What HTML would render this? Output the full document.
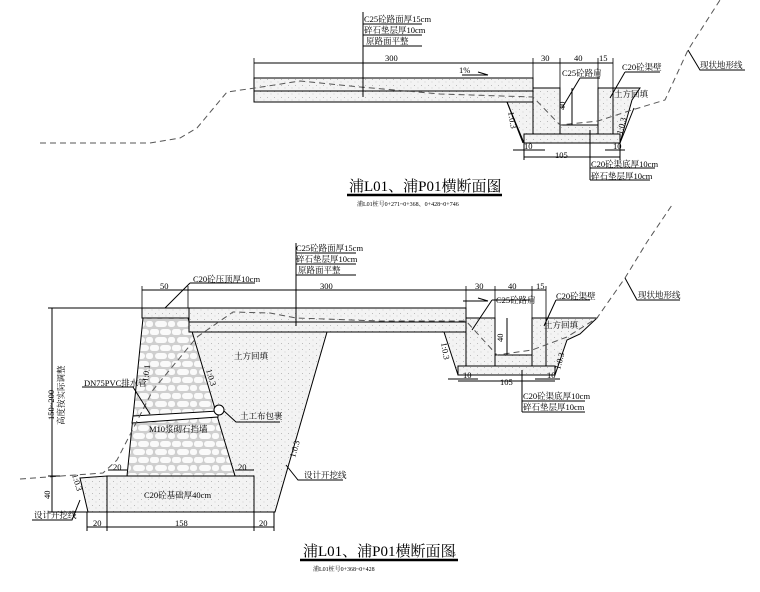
<!DOCTYPE html>
<html><head><meta charset="utf-8"><style>
html,body{margin:0;padding:0;background:#fff;}
svg{display:block;font-family:"Liberation Serif","Noto Serif CJK SC","Noto Sans CJK SC",serif;}
</style></head><body>
<svg width="760" height="592" viewBox="0 0 760 592" xmlns="http://www.w3.org/2000/svg">
<defs>
<pattern id="dots" width="7" height="6" patternUnits="userSpaceOnUse">
<rect width="7" height="6" fill="#f3f3f3"/>
<circle cx="1.5" cy="1.5" r="0.5" fill="#aaa"/><circle cx="5" cy="4" r="0.45" fill="#bbb"/>
</pattern>
<pattern id="stone" width="22" height="16" patternUnits="userSpaceOnUse">
<rect width="22" height="16" fill="#cfcfcf"/>
<rect x="1" y="1" width="12" height="6" rx="3" fill="#fafafa"/>
<rect x="14" y="1" width="7" height="6" rx="2.5" fill="#fafafa"/>
<rect x="-4" y="9" width="9" height="6" rx="2.5" fill="#fafafa"/>
<rect x="6" y="9" width="11" height="6" rx="3" fill="#fafafa"/>
<rect x="18" y="9" width="9" height="6" rx="2.5" fill="#fafafa"/>
</pattern>
<marker id="tk" viewBox="0 0 10 10" refX="5" refY="5" markerWidth="8" markerHeight="8" orient="auto"><path d="M0,5 L10,5 M3,8 L7,2" stroke="#000" stroke-width="1.2"/></marker>
</defs>
<g stroke="#000" stroke-width="1" fill="none">
<!-- ===== TOP SECTION ===== -->
<polygon points="507,102 533,102 533,134 524,134 524,143" fill="url(#dots)"/>
<polygon points="613,88 640,88 632,100 620,143 613,143" fill="url(#dots)"/>
<rect x="254" y="78" width="279" height="13" fill="url(#dots)"/>
<rect x="254" y="91" width="279" height="11" fill="url(#dots)"/>
<rect x="533" y="88" width="27" height="46" fill="url(#dots)"/>
<rect x="598" y="88" width="15" height="46" fill="url(#dots)"/>
<rect x="560" y="125" width="38" height="9" fill="url(#dots)"/>
<rect x="524" y="134" width="96" height="9" fill="url(#dots)"/>
<line x1="507" y1="102" x2="523" y2="143"/><line x1="620" y1="143" x2="634" y2="108"/>
<polyline points="40,143 150,143 180,138 197,128 227,92 255,88 300,81 360,87 440,94 533,97 560,125 598,121 632,110 665,100 688,50 720,0" stroke="#555" stroke-dasharray="6,4"/>
<!-- dims -->
<line x1="254" y1="63" x2="613" y2="63"/>
<g stroke-width="0.8"><line x1="254" y1="58" x2="254" y2="78"/><line x1="533" y1="58" x2="533" y2="88"/><line x1="560" y1="58" x2="560" y2="88"/><line x1="598" y1="58" x2="598" y2="88"/><line x1="613" y1="58" x2="613" y2="88"/></g>
<line x1="363" y1="12" x2="363" y2="97"/>
<line x1="363" y1="24" x2="422" y2="24"/><line x1="363" y1="35" x2="422" y2="35"/><line x1="363" y1="46" x2="422" y2="46"/>
<line x1="572" y1="88" x2="572" y2="125"/>
<line x1="524" y1="157" x2="620" y2="157"/><line x1="513" y1="150" x2="545" y2="150"/><line x1="605" y1="150" x2="625" y2="150"/>
<line x1="524" y1="143" x2="524" y2="160"/><line x1="620" y1="143" x2="620" y2="160"/>
<line x1="590" y1="130" x2="590" y2="180"/><line x1="590" y1="168" x2="655" y2="168"/><line x1="590" y1="180" x2="650" y2="180"/>
<line x1="562" y1="108" x2="580" y2="78"/><line x1="580" y1="78" x2="600" y2="78"/>
<line x1="610" y1="98" x2="625" y2="72"/><line x1="625" y1="72" x2="660" y2="72"/>
<polyline points="688,50 700,70 745,70"/>
<line x1="462" y1="75" x2="488" y2="75"/><line x1="478" y1="72" x2="488" y2="75"/>
<line x1="347" y1="195" x2="502" y2="195" stroke-width="2.5"/>
<!-- ===== BOTTOM SECTION ===== -->
<polygon points="80,478 107,476 107,512 88,512" fill="url(#dots)"/>
<polygon points="190,332 327,332 275,512 254,512 254,476 235,476" fill="url(#dots)"/>
<polygon points="143,318 188,318 235,476 127,476" fill="url(#stone)"/>
<rect x="142" y="308" width="47" height="10" fill="url(#dots)"/>
<rect x="189" y="308" width="277" height="14" fill="url(#dots)"/>
<rect x="189" y="322" width="277" height="10" fill="url(#dots)"/>
<rect x="107" y="476" width="147" height="36" fill="url(#dots)"/>
<polygon points="444,332 466,332 466,366 458,366 458,375" fill="url(#dots)"/>
<polygon points="546,318 597,318 580,334 567,340 555,375 546,375" fill="url(#dots)"/>
<rect x="466" y="318" width="29" height="48" fill="url(#dots)"/>
<rect x="532" y="318" width="14" height="48" fill="url(#dots)"/>
<rect x="495" y="355" width="37" height="11" fill="url(#dots)"/>
<rect x="458" y="366" width="97" height="9" fill="url(#dots)"/>
<polygon points="133,416 218,411 218,417 132,423" fill="#fff"/>
<circle cx="219" cy="410" r="5" fill="#fff"/>
<polyline points="20,479 103,473 117,460 153,390 197,337 233,312 270,313 296,318 380,321 466,321 497,355 532,350 567,337 597,318 625,278 647,242 672,205" stroke="#555" stroke-dasharray="6,4"/>
<!-- dims -->
<line x1="142" y1="290" x2="546" y2="290"/>
<g stroke-width="0.8"><line x1="142" y1="286" x2="142" y2="308"/><line x1="188" y1="286" x2="188" y2="308"/><line x1="466" y1="286" x2="466" y2="318"/><line x1="495" y1="286" x2="495" y2="318"/><line x1="532" y1="286" x2="532" y2="318"/><line x1="546" y1="286" x2="546" y2="318"/></g>
<line x1="296" y1="243" x2="296" y2="326"/>
<line x1="296" y1="253" x2="356" y2="253"/><line x1="296" y1="264" x2="356" y2="264"/><line x1="296" y1="275" x2="356" y2="275"/>
<line x1="165" y1="308" x2="190" y2="283"/><line x1="190" y1="283" x2="255" y2="283"/>
<line x1="507" y1="355" x2="507" y2="318"/>
<line x1="472" y1="330" x2="492" y2="300"/><line x1="492" y1="300" x2="530" y2="300"/>
<line x1="544" y1="326" x2="556" y2="300"/><line x1="556" y1="300" x2="590" y2="300"/>
<polyline points="625,278 637,300 680,300"/>
<line x1="458" y1="381" x2="555" y2="381"/><line x1="448" y1="379" x2="478" y2="379"/><line x1="535" y1="379" x2="560" y2="379"/>
<line x1="522" y1="370" x2="522" y2="412"/><line x1="522" y1="401" x2="585" y2="401"/><line x1="522" y1="412" x2="585" y2="412"/>
<line x1="52" y1="308" x2="52" y2="512"/><line x1="48" y1="308" x2="142" y2="308"/><line x1="48" y1="476" x2="60" y2="476"/><line x1="48" y1="512" x2="88" y2="512"/>
<line x1="87" y1="527" x2="274" y2="527"/><line x1="87" y1="512" x2="87" y2="531"/><line x1="107" y1="512" x2="107" y2="531"/><line x1="254" y1="512" x2="254" y2="531"/><line x1="274" y1="512" x2="274" y2="531"/>
<line x1="108" y1="470" x2="127" y2="470"/><line x1="235" y1="470" x2="254" y2="470"/>
<polyline points="80,500 72,520 32,520"/>
<polyline points="286,465 298,480 343,480"/>
<line x1="133" y1="387" x2="150" y2="414"/><line x1="82" y1="387" x2="133" y2="387"/>
<polyline points="224,411 236,422 280,422"/>
<line x1="300" y1="560" x2="458" y2="560" stroke-width="2.5"/>
<line x1="478" y1="298" x2="488" y2="301"/><line x1="463" y1="301" x2="488" y2="301"/>
</g>
<g font-size="8.5" fill="#000">
<text x="364" y="22">C25砼路面厚15cm</text><text x="364" y="33">碎石垫层厚10cm</text><text x="366" y="44">原路面平整</text>
<text x="385" y="61">300</text><text x="541" y="61">30</text><text x="574" y="61">40</text><text x="599" y="61">15</text>
<text x="459" y="73">1%</text><text x="562" y="76">C25砼路肩</text><text x="622" y="70">C20砼渠壁</text><text x="614" y="97">土方回填</text>
<text x="700" y="68">现状地形线</text>
<text x="555" y="158">105</text><text x="524" y="149">10</text><text x="613" y="149">10</text>
<text x="591" y="167">C20砼渠底厚10cm</text><text x="591" y="179">碎石垫层厚10cm</text>
<text transform="translate(565,110) rotate(-90)">40</text>
<text transform="translate(508,112) rotate(80)">1:0.3</text>
<text transform="translate(622,135) rotate(-75)">1:0.3</text>
<text x="296" y="251">C25砼路面厚15cm</text><text x="296" y="262">碎石垫层厚10cm</text><text x="298" y="273">原路面平整</text>
<text x="193" y="282">C20砼压顶厚10cm</text>
<text x="160" y="289">50</text><text x="320" y="289">300</text><text x="475" y="289">30</text><text x="508" y="289">40</text><text x="536" y="289">15</text>
<text x="496" y="303">C25砼路肩</text><text x="556" y="299">C20砼渠壁</text><text x="544" y="328">土方回填</text>
<text x="638" y="298">现状地形线</text>
<text x="500" y="385">105</text><text x="463" y="378">10</text><text x="547" y="378">10</text>
<text x="523" y="399">C20砼渠底厚10cm</text><text x="523" y="410">碎石垫层厚10cm</text>
<text transform="translate(503,342) rotate(-90)">40</text>
<text transform="translate(441,343) rotate(80)">1:0.3</text>
<text transform="translate(560,370) rotate(-75)">1:0.3</text>
<text x="234" y="359">土方回填</text>
<text transform="translate(148,382) rotate(-83)">1:0.1</text>
<text transform="translate(206,370) rotate(73)">1:0.3</text>
<text transform="translate(295,458) rotate(-74)">1:0.3</text>
<text transform="translate(72,475) rotate(73)">1:0.3</text>
<text x="84" y="386">DN75PVC排水管</text>
<text x="149" y="432">M10浆砌石挡墙</text>
<text x="240" y="419">土工布包裹</text>
<text x="144" y="498">C20砼基础厚40cm</text>
<text x="304" y="478">设计开挖线</text>
<text x="34" y="518">设计开挖线</text>
<text x="113" y="470">20</text><text x="238" y="470">20</text>
<text x="93" y="526">20</text><text x="175" y="526">158</text><text x="259" y="526">20</text>
<text transform="translate(54,420) rotate(-90)">150~200</text>
<text transform="translate(64,425) rotate(-90)">高度按实际调整</text>
<text transform="translate(50,499) rotate(-90)">40</text>
</g>
<g fill="#000">
<text x="349" y="191" font-size="15">浦L01、浦P01横断面图</text><text x="488" y="192" font-size="6">1:25</text>
<text x="357" y="206" font-size="6">浦L01桩号0+271~0+368、0+428~0+746</text>
<text x="303" y="556" font-size="15">浦L01、浦P01横断面图</text><text x="445" y="556" font-size="6">1:25</text>
<text x="313" y="571" font-size="6">浦L01桩号0+368~0+428</text>
</g>
</svg>
</body></html>
